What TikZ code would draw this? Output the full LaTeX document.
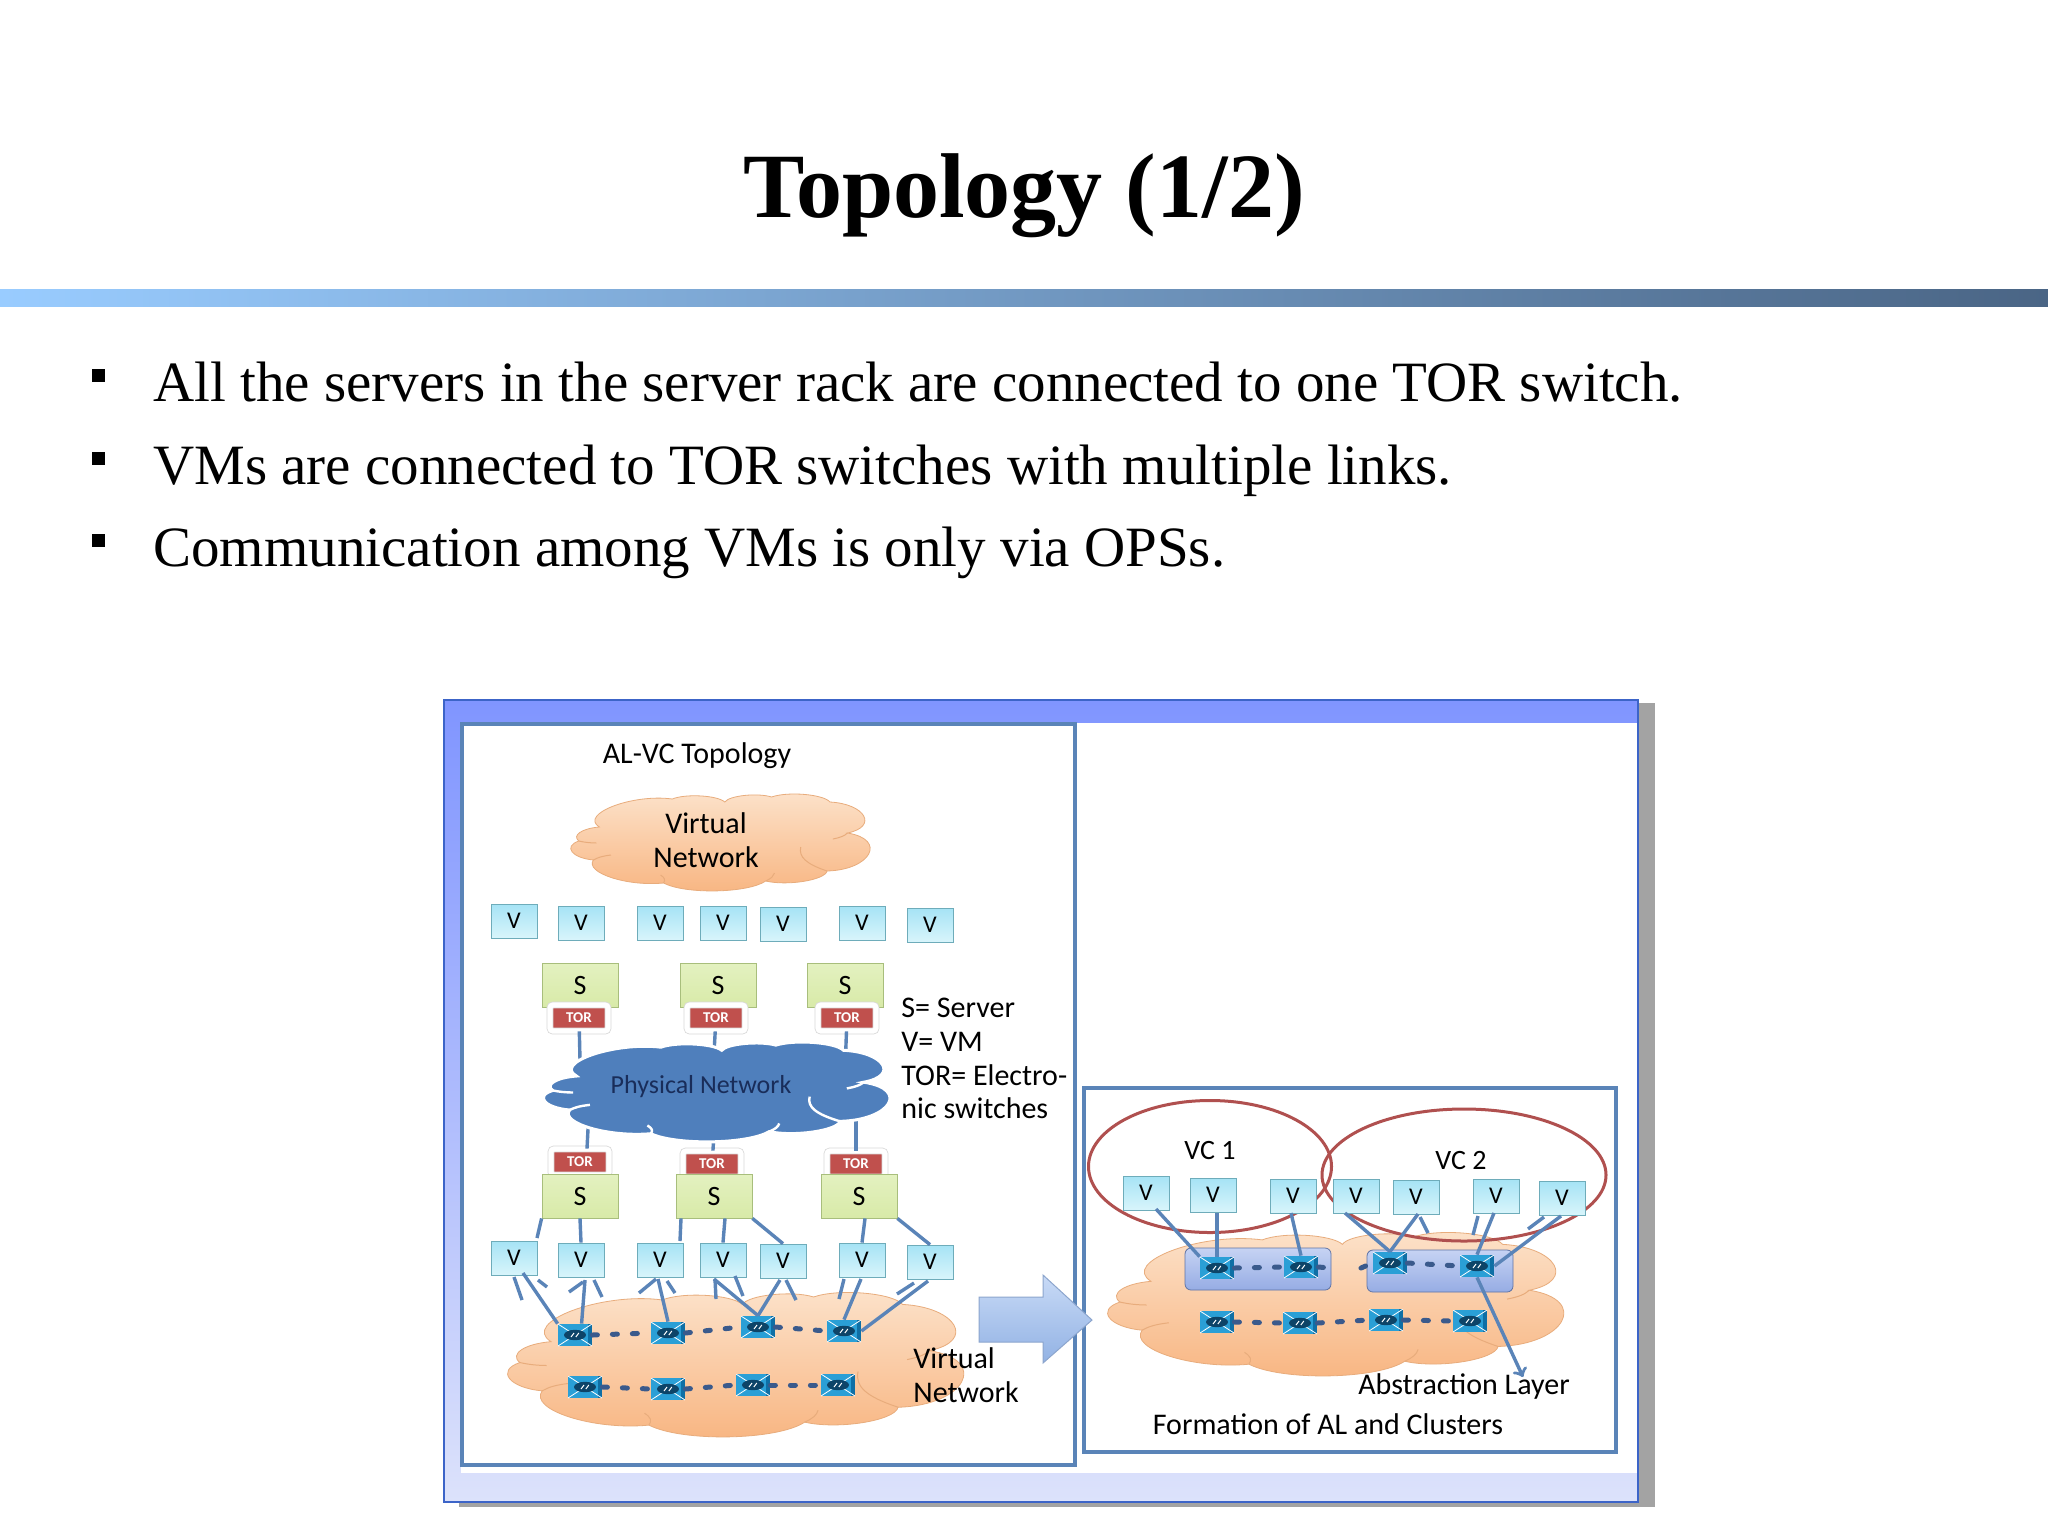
\documentclass[tikz,border=0pt]{standalone}
\usepackage{fontspec}
\setmainfont{Liberation Serif}
\newfontfamily\calibri{Carlito}
\usetikzlibrary{positioning, calc}

\definecolor{linkblue}{HTML}{5A84B8}
\definecolor{dotblue}{HTML}{3A5A8C}
\definecolor{swblue}{HTML}{2A9FD6}
\definecolor{swside}{HTML}{0F6FA5}
\definecolor{swdark}{HTML}{0D4468}
\definecolor{netblue}{HTML}{4F7FBC}
\definecolor{cloudtop}{HTML}{FCE2CA}
\definecolor{cloudbot}{HTML}{F8B581}
\definecolor{cloudedge}{HTML}{E8AC7C}
\definecolor{ringred}{HTML}{B0504F}
\definecolor{frameblue}{HTML}{3C64C8}

\tikzset{
    link/.style={linkblue, line width=1.7pt},
    dots/.style={dotblue, line width=2.5pt, line cap=round, dash pattern=on 2.5pt off 7.5pt},
    vm/.style={draw={rgb,255:red,110;green,172;blue,186}, top color={rgb,255:red,166;green,227;blue,245}, bottom color={rgb,255:red,216;green,245;blue,251}, minimum width=23pt, minimum height=17pt, inner sep=0pt, font=\calibri\fontsize{12}{12}\selectfont},
    srv/.style={draw={rgb,255:red,168;green,190;blue,124}, top color={rgb,255:red,227;green,241;blue,192}, bottom color={rgb,255:red,216;green,234;blue,168}, minimum width=38pt, minimum height=22pt, inner sep=0pt, font=\calibri\fontsize{14}{14}\selectfont},
    tor/.style={draw=gray!30, double=white, double distance=2.6pt, fill={rgb,255:red,192;green,80;blue,77}, rounded corners=1.5pt, text=white, minimum width=29pt, minimum height=13pt, inner sep=0pt, font=\calibri\bfseries\fontsize{7.5}{7.5}\selectfont},
    lab/.style={inner sep=0pt, font=\calibri\fontsize{15}{15}\selectfont},
    albox/.style={draw={rgb,255:red,95;green,115;blue,165}, rounded corners=3pt, top color={rgb,255:red,198;green,211;blue,243}, bottom color={rgb,255:red,150;green,172;blue,228}},
    swi/.style={fill=swblue, minimum width=17pt, minimum height=11pt, inner sep=0pt,
        path picture={
            \fill[swside] ($(path picture bounding box.north east)+(-2pt,0)$) rectangle (path picture bounding box.south east);
            \draw[white, line width=.4pt] (path picture bounding box.north west) -- (path picture bounding box.south east) (path picture bounding box.north east) -- (path picture bounding box.south west);
            \fill[swdark] (path picture bounding box.center) ellipse (5.5pt and 2.6pt);
            \draw[white, line width=.5pt] ($(path picture bounding box.center)+(-2pt,-1pt)$) -- +(1.5pt,2pt) ($(path picture bounding box.center)+(.4pt,-1pt)$) -- +(1.5pt,2pt);
        }},
}

% 云形：x, y, 宽, 高, 样式
\newcommand{\blob}[6]{
    \begin{scope}[shift={(#1,#2)}, xscale=#3, yscale=#4]
        \shade[#5] (2,48) to[bend left=50] (9,34) to[bend left=70] (34,6) to[bend left=60] (52,9) to[bend left=60] (68,4) to[bend left=60] (88,9) to[bend left=70] (94,40) to[bend left=75] (87,78) to[bend left=60] (66,88) to[bend left=60] (31,90) to[bend left=60] (7,67) to[bend left=60] (2,48) -- cycle;
        \draw[#6] (2,48) to[bend right=15] (8,50) (7,67) to[bend left=20] (13,62) (87,78) to[bend left=25] (78,54) (31,90) to[bend right=20] (30,82) (94,40) to[bend left=20] (89,46) (66,88) to[bend right=15] (69,80);
    \end{scope}
}

\begin{document}
\begin{tikzpicture}[x=0.5pt, y=-0.5pt]
    \useasboundingbox (0,0) rectangle (2048,1536);

    % 标题与横条
    \node[anchor=base, inner sep=0pt, font=\bfseries\fontsize{46}{46}\selectfont] (title) at (1024,217) {Topology (1/2)};
    \shade[left color={rgb,255:red,153;green,204;blue,255}, right color={rgb,255:red,74;green,101;blue,133}] (0,289) rectangle (2048,306);

    % 项目符号
    \foreach \i/\y/\t in {1/401/All the servers in the server rack are connected to one TOR switch., 2/484/VMs are connected to TOR switches with multiple links., 3/566/Communication among VMs is only via OPSs.} {
        \node[anchor=base west, inner sep=0pt, font=\fontsize{28.5}{28.5}\selectfont] (item\i) at (153,\y) {\t};
        \node[fill=black, minimum size=6.5pt, inner sep=0pt] (mark\i) at (98,\y-26) {};
    }

    % 外框
    \fill[black!36] (459,703) rectangle (1655,1507);
    \shade[top color={rgb,255:red,128;green,149;blue,255}, bottom color={rgb,255:red,220;green,226;blue,251}] (444,700) rectangle (1638,1502);
    \fill[white] (461,723) rectangle (1638,1473);
    \draw[frameblue, line width=1pt] (444,700) rectangle (1638,1502);
    \draw[link] (462,724) rectangle (1075,1465);
    \draw[link] (1084,1088) rectangle (1616,1452);

    % 左上部分
    \node[lab] (altitle) at (697,756) {AL-VC Topology};
    \blob{573}{793}{2.92}{1.0}{top color=cloudtop, bottom color=cloudbot, draw=cloudedge}{cloudedge, line width=.5pt}
    \node[lab, align=center, font=\calibri\fontsize{15}{17}\selectfont] (vnet) at (706,840) {Virtual\\Network};

    \foreach \i/\x/\y in {1/514/921, 2/581/923, 3/660/923, 4/723/923, 5/783/924, 6/862/923, 7/930/925} {
        \node[vm] (va\i) at (\x,\y) {V};
    }
    \foreach \i/\x in {1/580, 2/718, 3/845} {
        \node[srv] (sa\i) at (\x,985) {S};
    }
    \node[tor] (ta1) at (579,1018) {TOR};
    \node[tor] (ta2) at (716,1018) {TOR};
    \node[tor] (ta3) at (847,1018) {TOR};
    \node[tor] (tb1) at (580,1162) {TOR};
    \node[tor] (tb2) at (712,1164) {TOR};
    \node[tor] (tb3) at (856,1164) {TOR};

    % 物理网络连线
    \coordinate (pa1) at (580,1060);
    \coordinate (pa2) at (713,1070);
    \coordinate (pa3) at (845,1070);
    \coordinate (pb1) at (589,1110);
    \coordinate (pb2) at (714,1135);
    \coordinate (pb3) at (856,1105);
    \foreach \a/\b in {ta1/pa1, ta2/pa2, ta3/pa3, tb2/pb2, tb3/pb3} {
        \draw[link] (\a) -- (\b);
    }
    \draw[link] ($(tb1.north)+(7,0)$) -- (pb1);
    \blob{546}{1041}{3.38}{1.03}{top color=netblue, bottom color=netblue, draw=white, line width=1.5pt}{white, line width=1.2pt}
    \node[lab, font=\calibri\fontsize{13}{13}\selectfont, text={rgb,255:red,25;green,45;blue,90}] (phys) at (701,1087) {Physical Network};

    \node[lab, anchor=west] (key1) at (901,1008) {S= Server};
    \node[lab, anchor=west] (key2) at (901,1042) {V= VM};
    \node[lab, anchor=west] (key3) at (901,1075) {TOR= Electro-};
    \node[lab, anchor=west] (key4) at (901,1108) {nic switches};

    % 左下部分
    \blob{511}{1291}{4.45}{1.49}{top color=cloudtop, bottom color=cloudbot, draw=cloudedge}{cloudedge, line width=.5pt}
    \foreach \i/\x in {1/580, 2/714, 3/859} {
        \node[srv] (sb\i) at (\x,1196) {S};
    }
    \foreach \i/\x/\y in {1/514/1258, 2/581/1260, 3/660/1260, 4/723/1260, 5/783/1261, 6/862/1260, 7/930/1262} {
        \node[vm] (vb\i) at (\x,\y) {V};
    }
    \foreach \i/\x/\y in {1/575/1335, 2/668/1333, 3/758/1327, 4/844/1331} {
        \node[swi] (sw\i) at (\x,\y) {};
    }
    \foreach \i/\x/\y in {1/585/1387, 2/668/1389, 3/753/1385, 4/838/1385} {
        \node[swi] (sx\i) at (\x,\y) {};
    }
    \foreach \a/\b in {sw1/sw2, sw2/sw3, sw3/sw4, sx1/sx2, sx2/sx3, sx3/sx4} {
        \draw[dots] (\a.east) -- (\b.west);
    }
    % 服务器到虚拟机
    \draw[link] (sb1.south west) -- ($(vb1)+(23,-20)$);
    \draw[link] (sb1.south) -- (vb2.north);
    \draw[link] ($(sb2.south)+(-33,0)$) -- ($(vb3)+(20,-19)$);
    \draw[link] ($(sb2.south)+(11,0)$) -- (vb4.north);
    \draw[link] (sb2.south east) -- (vb5.north);
    \draw[link] ($(sb3.south)+(6,0)$) -- (vb6.north);
    \draw[link] (sb3.south east) -- (vb7.north);
    % 虚拟机到交换机
    \draw[link] ($(vb1)+(9,15)$) -- (sw1.north west);
    \draw[link] ($(vb2)+(4,20)$) -- (sw1.60);
    \draw[link] ($(vb3)+(-2,19)$) -- (sw2.north);
    \draw[link] ($(vb4)+(-9,19)$) -- (sw3.north);
    \draw[link] ($(vb5)+(-3,19)$) -- (sw3.north);
    \draw[link] ($(vb6)+(-1,19)$) -- (sw4.north);
    \draw[link] ($(vb7)+(-2,19)$) -- (sw4.east);
    % 短线
    \foreach \i/\n/\dx/\dy/\ex/\ey in {1/vb1/0/19/8/42, 2/vb1/24/22/33/29, 3/vb2/2/22/-12/32, 4/vb2/13/20/21/37, 5/vb3/-4/19/-21/33, 6/vb3/7/21/15/33, 7/vb4/-8/19/-7/39, 8/vb4/12/16/20/36, 9/vb5/3/19/13/39, 10/vb6/-18/19/-23/39, 11/vb7/-16/21/-33/32} {
        \coordinate (stub\i) at ($(\n)+(\ex,\ey)$);
        \draw[link] ($(\n)+(\dx,\dy)$) -- (stub\i);
    }
    \node[lab, anchor=west] (lvn1) at (913,1358) {Virtual};
    \node[lab, anchor=west] (lvn2) at (913,1392) {Network};

    % 粗箭头
    \shade[top color={rgb,255:red,200;green,218;blue,246}, bottom color={rgb,255:red,146;green,178;blue,228}, draw={rgb,255:red,140;green,165;blue,205}, line width=.5pt] (979,1297) -- (1043,1297) -- (1043,1275) -- (1092,1320) -- (1043,1363) -- (1043,1342) -- (979,1342) -- cycle;

    % 右侧部分
    \blob{1111}{1231}{4.45}{1.48}{top color=cloudtop, bottom color=cloudbot, draw=cloudedge}{cloudedge, line width=.5pt}
    \draw[ringred, line width=1.5pt] (1210,1166.5) ellipse (121.5 and 66);
    \draw[ringred, line width=1.5pt] (1464,1175) ellipse (142 and 66);
    \node[lab, font=\calibri\fontsize{14}{14}\selectfont] (vc1) at (1210,1150) {VC 1};
    \node[lab, font=\calibri\fontsize{14}{14}\selectfont] (vc2) at (1461,1160) {VC 2};
    \foreach \i/\x/\y in {1/1146/1193, 2/1213/1195, 3/1293/1196, 4/1356/1196, 5/1416/1197, 6/1496/1196, 7/1562/1198} {
        \node[vm] (vc\i) at (\x,\y) {V};
    }
    \draw[albox] (1185,1248) rectangle (1331,1290);
    \draw[albox] (1367,1250) rectangle (1513,1292);
    \foreach \i/\x/\y in {1/1217/1268, 2/1301/1267, 3/1390/1263, 4/1477/1266} {
        \node[swi] (sy\i) at (\x,\y) {};
    }
    \foreach \i/\x/\y in {1/1217/1322, 2/1300/1323, 3/1386/1320, 4/1470/1321} {
        \node[swi] (sz\i) at (\x,\y) {};
    }
    \coordinate (gapl) at (1330,1268);
    \coordinate (gapr) at (1361,1268);
    \draw[dots] (sy1.east) -- (sy2.west);
    \draw[dots] (sy2.east) -- (gapl);
    \draw[dots] (gapr) -- (sy3.west);
    \draw[dots] (sy3.east) -- (sy4.west);
    \foreach \a/\b in {sz1/sz2, sz2/sz3, sz3/sz4} {
        \draw[dots] (\a.east) -- (\b.west);
    }
    \draw[link] ($(vc1)+(10,16)$) -- (sy1.north west);
    \draw[link] ($(vc2)+(4,18)$) -- (sy1.north);
    \draw[link] ($(vc3)+(-2,17)$) -- (sy2.north);
    \draw[link] ($(vc4)+(-11,17)$) -- (sy3.north);
    \draw[link] ($(vc5)+(2,17)$) -- (sy3.north);
    \draw[link] ($(vc6)+(-2,17)$) -- (sy4.north);
    \draw[link] ($(vc7)+(-1,18)$) -- (sy4.east);
    \foreach \i/\n/\dx/\dy/\ex/\ey in {12/vc5/4/20/12/36, 13/vc6/-18/20/-23/39, 14/vc7/-18/19/-34/31} {
        \coordinate (stub\i) at ($(\n)+(\ex,\ey)$);
        \draw[link] ($(\n)+(\dx,\dy)$) -- (stub\i);
    }
    \coordinate (alend) at (1523,1377);
    \draw[link, ->] (sy4.south) -- (alend);
    \node[lab] (alab) at (1464,1386) {Abstraction Layer};
    \node[lab] (form) at (1328,1424) {Formation of AL and Clusters};
\end{tikzpicture}
\end{document}
